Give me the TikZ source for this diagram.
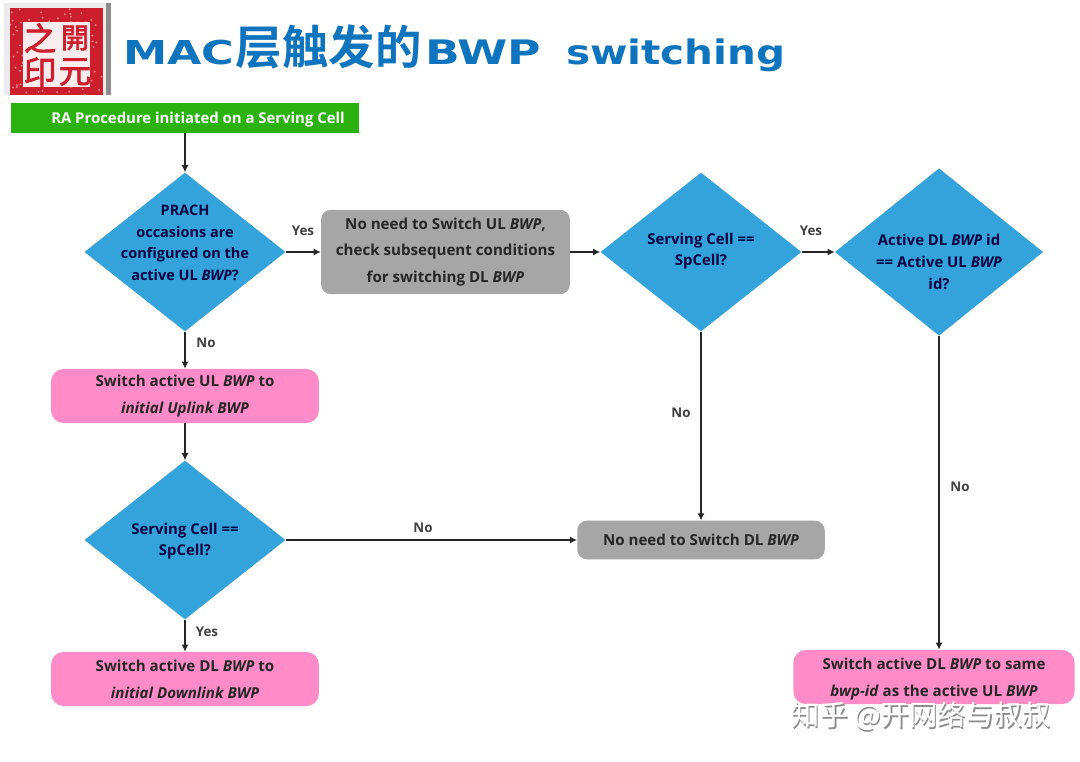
\documentclass[tikz,border=0pt]{standalone}
\usepackage{fontspec}
\setmainfont{Open Sans}
\newfontfamily\cjkfont{Noto Sans CJK SC}[BoldFont={* Bold}]
\newfontfamily\sealfont{Noto Sans CJK TC}[FakeBold=2.5]
\newfontfamily\titlefont{DejaVu Sans}[FakeStretch=1.35]
\newfontfamily\titlesmall{DejaVu Sans}[FakeStretch=1.2]
\usetikzlibrary{shapes.geometric,arrows.meta}
\definecolor{decisionblue}{RGB}{52,163,220}
\definecolor{pinkbox}{RGB}{255,140,200}
\definecolor{greybox}{RGB}{166,166,166}
\definecolor{startgreen}{RGB}{44,178,14}
\definecolor{titleblue}{RGB}{14,116,190}
\definecolor{sealred}{RGB}{205,30,45}
\newcommand{\bwp}{\textit{BWP}}
\tikzset{
  boxtext/.style={font=\fontsize{10.75}{19}\selectfont\bfseries, text=black!85, align=center},
  decisiontext/.style={font=\fontsize{10.6}{15.4}\selectfont\bfseries, text=black!75!blue, align=center},
  decision/.style={diamond, fill=decisionblue, inner sep=0pt},
  pinkterm/.style={boxtext, rectangle, rounded corners=9pt, fill=pinkbox, minimum width=190.5pt, minimum height=38.5pt, inner sep=0pt},
  greyterm/.style={boxtext, rectangle, rounded corners=7pt, fill=greybox, inner sep=0pt},
  sealchar/.style={font=\sealfont\fontsize{23}{23}\selectfont, text=sealred, inner sep=0pt},
  flow/.style={-{Latex[length=5pt,width=5pt]}, line width=0.9pt, black!85},
  edgelabel/.style={font=\fontsize{9.5}{11}\selectfont\bfseries, text=black!75},
}
\begin{document}
\begin{tikzpicture}[x=0.025cm,y=-0.025cm]
  \useasboundingbox (0,0) rectangle (1080,762);
  \fill[white] (0,0) rectangle (1080,762);

  % seal in the corner
  \fill[black!45] (4,3) rectangle (111,95);
  \fill[black!8] (4,3) rectangle (106,95);
  \fill[sealred] (10,8) rectangle (103,95);
  \pgfmathsetseed{7}
  \foreach \i in {1,...,90} {
    \pgfmathsetmacro{\px}{10+93*rnd}
    \pgfmathsetmacro{\py}{8+87*rnd}
    \fill[white, opacity=0.45] (\px,\py) circle (1.1);
  }
  \fill[white!92!sealred] (23,22) rectangle (90,87);
  \node[sealchar] (seal1) at (40,38) {之};
  \node[sealchar, font=\sealfont\fontsize{20}{20}\selectfont] (seal2) at (75,38) {開};
  \node[sealchar] (seal3) at (40,72) {印};
  \node[sealchar] (seal4) at (75,72) {元};

  % title
  \node[anchor=west, inner sep=0pt, text=titleblue, font=\fontsize{23.4}{24}\selectfont] (title) at (123,48)
    {\titlefont\bfseries MAC\hspace{1pt}{\cjkfont\fontsize{33}{33}\selectfont 层触发的}\hspace{2.5pt}\fontsize{24}{24}\selectfont BWP\hspace{18pt}{\titlesmall\fontsize{24}{24}\selectfont switching}};

  % start
  \node[rectangle, fill=startgreen, minimum width=247pt, minimum height=21pt, inner sep=0pt] (start) at (185,118) {};
  \node[boxtext, text=white, font=\fontsize{10.6}{19}\selectfont\bfseries] (starttext) at (198,119.5) {RA Procedure initiated on a Serving Cell};

  % left column
  \node[decision, minimum width=143pt, minimum height=113pt] (prach) at (185,252) {};
  \node[decisiontext, font=\fontsize{10.3}{15.4}\selectfont\bfseries] (prachtext) at (185,243) {PRACH\\occasions are\\configured on the\\active UL \bwp?};
  \node[pinkterm] (ulswitch) at (185,396) {Switch active UL \bwp{} to\\\textit{initial Uplink BWP}};
  \node[decision, minimum width=143pt, minimum height=113pt] (spcell1) at (185,540) {};
  \node[decisiontext] (spcell1text) at (185,541) {Serving Cell ==\\SpCell?};
  \node[pinkterm] (dlswitch) at (185,679) {Switch active DL \bwp{} to\\\textit{initial Downlink BWP}};

  % middle
  \node[greyterm, minimum width=177pt, minimum height=60pt] (noulswitch) at (445.5,252) {No need to Switch UL \bwp,\\check subsequent conditions\\for switching DL \bwp};
  \node[decision, minimum width=143pt, minimum height=113pt] (spcell2) at (701,252) {};
  \node[decisiontext] (spcell2text) at (701,251) {Serving Cell ==\\SpCell?};
  \node[greyterm, minimum width=176pt, minimum height=27.5pt] (nodlswitch) at (701,540) {No need to Switch DL \bwp};

  % right
  \node[decision, minimum width=148pt, minimum height=119pt] (sameid) at (939,252) {};
  \node[decisiontext] (sameidtext) at (939,262) {Active DL \bwp{} id\\== Active UL \bwp\\id?};
  \node[pinkterm, minimum width=200pt] (sameswitch) at (934,677) {};
  \node[boxtext] (sameswitchtext) at (934,679) {Switch active DL \bwp{} to same\\\textit{bwp-id} as the active UL \bwp};

  % connectors
  \draw[flow] (start) -- (prach);
  \draw[flow] (prach) -- (noulswitch);
  \draw[flow] (noulswitch) -- (spcell2);
  \draw[flow] (spcell2) -- (sameid);
  \draw[flow] (prach) -- (ulswitch);
  \draw[flow] (ulswitch) -- (spcell1);
  \draw[flow] (spcell1) -- (dlswitch);
  \draw[flow] (spcell1) -- (nodlswitch);
  \draw[flow] (spcell2) -- (nodlswitch);
  \draw[flow] (sameid.south) -- (sameid.south |- sameswitch.north);

  % labels
  \node[edgelabel] (yes1) at (303,231) {Yes};
  \node[edgelabel] (no1) at (206,343) {No};
  \node[edgelabel] (yes2) at (811,231) {Yes};
  \node[edgelabel] (no2) at (681,413) {No};
  \node[edgelabel] (no3) at (423,528) {No};
  \node[edgelabel] (yes3) at (207,632) {Yes};
  \node[edgelabel] (no4) at (960,487) {No};

  % watermark
  \node[anchor=west, inner sep=0pt, font=\cjkfont\fontsize{20.1}{22}\selectfont, text=black!45] (markshadow) at (792.6,717.6) {知乎 @开网络与叔叔};
  \node[anchor=west, inner sep=0pt, font=\cjkfont\fontsize{20.1}{22}\selectfont, text=white] (mark) at (791,716) {知乎 @开网络与叔叔};
\end{tikzpicture}
\end{document}
